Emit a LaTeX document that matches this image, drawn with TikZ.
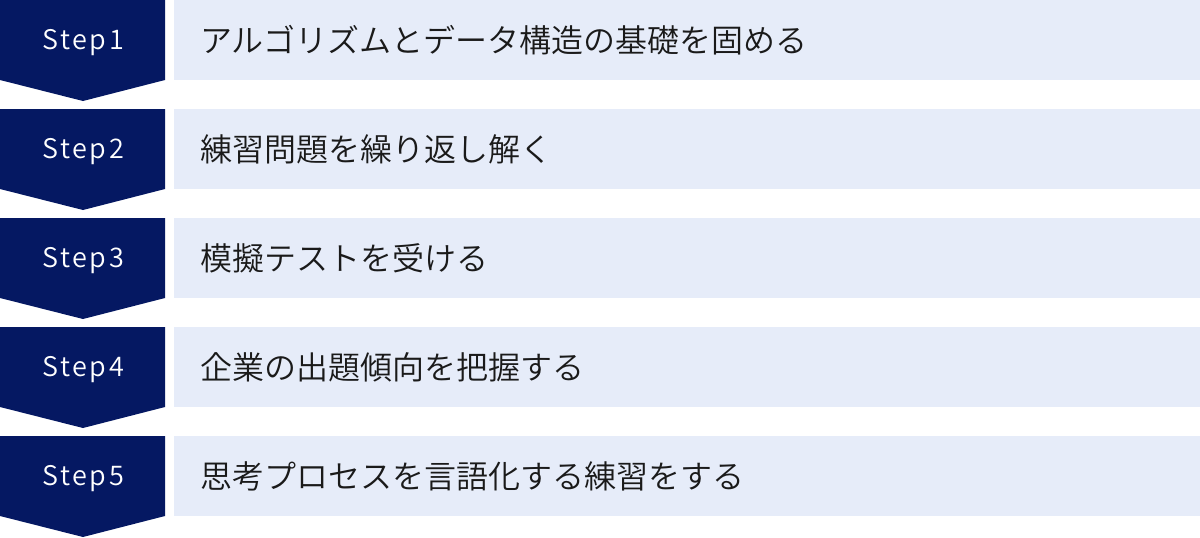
\documentclass[tikz,border=0pt]{standalone}
\usepackage{fontspec}
\setmainfont{Noto Sans CJK JP DemiLight}
\newfontfamily\stepfont[LetterSpace=10]{Noto Sans CJK JP DemiLight}
\usepackage{tikz}
\usetikzlibrary{calc, positioning}
\definecolor{stepnavy}{RGB}{5,24,98}
\definecolor{tasklight}{RGB}{230,236,249}
\definecolor{tasktext}{RGB}{26,26,26}
\tikzset{
    steplabel/.style={text=white, font=\stepfont\fontsize{27}{30}\selectfont, inner sep=0pt},
    taskbox/.style={rectangle, fill=tasklight, minimum width=1026pt, minimum height=80pt, inner sep=0pt},
    tasklabel/.style={anchor=west, text=tasktext, font=\fontsize{32}{35}\selectfont, inner sep=0pt},
}

\begin{document}
\begin{tikzpicture}[x=1pt, y=-1pt]
    \useasboundingbox (0,0) rectangle (1200,538);
    \foreach \txt [count=\i] in {アルゴリズムとデータ構造の基礎を固める, 練習問題を繰り返し解く, 模擬テストを受ける, 企業の出題傾向を把握する, 思考プロセスを言語化する練習をする} {
            \pgfmathsetmacro{\top}{(\i-1)*109}
            % chevron for each step
            \fill[stepnavy] (0,\top) -- (165,\top) -- (165,\top+80) -- (83,\top+101) -- (0,\top+80) -- cycle;
            \node[steplabel] (step\i) at (83,\top+43) {Step\i};
            \node[taskbox] (task\i) at (687,\top+40) {};
            \node[tasklabel] (label\i) at (200,\top+40) {\txt};
        }
\end{tikzpicture}
\end{document}
